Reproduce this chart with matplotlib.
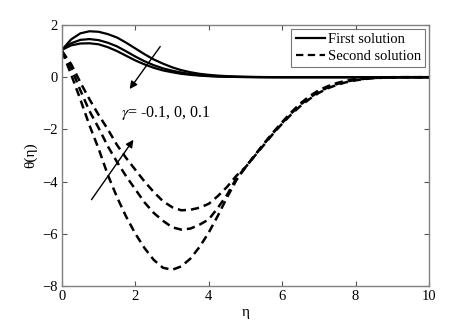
import numpy as np
import matplotlib
matplotlib.use("Agg")
import matplotlib.pyplot as plt

plt.rcParams["font.family"] = ["Liberation Serif", "DejaVu Serif"]
plt.rcParams["mathtext.fontset"] = "stix"

# similarity variable
eta = [0.0, 0.25, 0.5, 0.75, 1.0, 1.25, 1.5, 1.75, 2.0, 2.25, 2.5, 2.75,
       3.0, 3.25, 3.5, 3.75, 4.0, 4.25, 4.5, 4.75, 5.0, 5.25, 5.5, 5.75,
       6.0, 6.25, 6.5, 6.75, 7.0, 7.25, 7.5, 7.75, 8.0, 8.25, 8.5, 8.75,
       9.0, 9.25, 9.5, 9.75, 10.0]

# first (upper branch) solutions, gamma = -0.1, 0, 0.1
first_m01 = [1.05, 1.45, 1.68, 1.76, 1.74, 1.65, 1.52, 1.32, 1.10, 0.88, 0.68, 0.52,
             0.38, 0.27, 0.19, 0.13, 0.09, 0.06, 0.04, 0.025, 0.015, 0.01, 0.006, 0.003,
             0.0, 0.0, 0.0, 0.0, 0.0, 0.0, 0.0, 0.0, 0.0, 0.0, 0.0, 0.0,
             0.0, 0.0, 0.0, 0.0, 0.0]
first_0 = [1.05, 1.30, 1.43, 1.46, 1.42, 1.32, 1.18, 0.99, 0.79, 0.61, 0.46, 0.34,
           0.25, 0.18, 0.12, 0.08, 0.05, 0.03, 0.02, 0.012, 0.008, 0.004, 0.002, 0.0,
           0.0, 0.0, 0.0, 0.0, 0.0, 0.0, 0.0, 0.0, 0.0, 0.0, 0.0, 0.0,
           0.0, 0.0, 0.0, 0.0, 0.0]
first_p01 = [1.05, 1.22, 1.29, 1.30, 1.26, 1.15, 1.00, 0.82, 0.64, 0.49, 0.36, 0.26,
             0.19, 0.13, 0.09, 0.06, 0.04, 0.025, 0.015, 0.01, 0.005, 0.003, 0.0, 0.0,
             0.0, 0.0, 0.0, 0.0, 0.0, 0.0, 0.0, 0.0, 0.0, 0.0, 0.0, 0.0,
             0.0, 0.0, 0.0, 0.0, 0.0]

# second (lower branch) solutions, gamma = -0.1, 0, 0.1
second_m01 = [1.0, 0.1, -0.85, -1.85, -2.75, -3.75, -4.6, -5.35, -6.0, -6.55, -7.0, -7.3,
              -7.38, -7.25, -6.95, -6.5, -5.95, -5.3, -4.6, -3.95, -3.45, -3.0, -2.55, -2.12,
              -1.72, -1.34, -1.0, -0.72, -0.5, -0.34, -0.22, -0.13, -0.07, -0.04, -0.02, -0.01,
              0.0, 0.0, 0.0, 0.0, 0.0]
second_0 = [1.0, 0.35, -0.5, -1.3, -1.95, -2.65, -3.25, -3.8, -4.3, -4.8, -5.2, -5.5,
            -5.75, -5.84, -5.8, -5.65, -5.45, -5.0, -4.5, -3.88, -3.45, -3.0, -2.56, -2.14,
            -1.75, -1.38, -1.05, -0.78, -0.56, -0.39, -0.26, -0.17, -0.1, -0.06, -0.03, -0.015,
            -0.005, 0.0, 0.0, 0.0, 0.0]
second_p01 = [1.0, 0.5, -0.2, -0.85, -1.45, -2.0, -2.6, -3.1, -3.55, -4.0, -4.4, -4.75,
              -4.98, -5.1, -5.08, -5.0, -4.85, -4.55, -4.2, -3.78, -3.45, -3.02, -2.6, -2.17,
              -1.78, -1.42, -1.1, -0.83, -0.6, -0.42, -0.29, -0.19, -0.12, -0.07, -0.04, -0.02,
              -0.01, 0.0, 0.0, 0.0, 0.0]

xticks = [0, 2, 4, 6, 8, 10]
yticks = [-8, -6, -4, -2, 0, 2]

dash = (0, (3.3, 2.0))

fig = plt.figure(figsize=(4.74, 3.23), dpi=100)
ax = fig.add_axes([0.1308, 0.1146, 0.7742, 0.808])

for y in (first_m01, first_0, first_p01):
    ax.plot(eta, y, color="black", lw=1.6, solid_joinstyle="round")
for y in (second_m01, second_0, second_p01):
    ax.plot(eta, y, color="black", lw=1.8, ls=dash)

ax.set_xlim(0, 10)
ax.set_ylim(-8, 2)
ax.set_xticks(xticks)
ax.set_yticks(yticks)
ax.tick_params(direction="in", top=True, right=True, length=3.5, width=0.8,
               labelsize=10.5, pad=3, color="#555555")
for s in ax.spines.values():
    s.set_color("#808080")
    s.set_linewidth(1.0)

ax.set_xlabel("η", fontsize=11, labelpad=2)
ax.set_ylabel("θ(η)", fontsize=11, labelpad=4)

# legend
first_handle, = ax.plot([], [], color="black", lw=1.6)
second_handle, = ax.plot([], [], color="black", lw=1.6, ls=dash)
leg = ax.legend([first_handle, second_handle], ["First solution", "Second solution"],
                loc="upper right", fontsize=10.5,
                frameon=True, fancybox=False, edgecolor="#555555",
                handlelength=2.0, handletextpad=0.2, borderpad=0.3,
                labelspacing=0.25, borderaxespad=0.25)
leg.get_frame().set_linewidth(0.8)

# parameter annotation and direction arrows
ax.text(2.82, -1.37, r"$\gamma$= -0.1, 0, 0.1", fontsize=11.5, ha="center", va="center")
ax.annotate("", xy=(1.80, -0.54), xytext=(2.72, 1.26),
            arrowprops=dict(arrowstyle="-|>", color="black", lw=1.0, mutation_scale=11))
ax.annotate("", xy=(1.99, -2.31), xytext=(0.76, -4.78),
            arrowprops=dict(arrowstyle="-|>", color="black", lw=1.0, mutation_scale=11))

fig.savefig("out.png", dpi=100)
